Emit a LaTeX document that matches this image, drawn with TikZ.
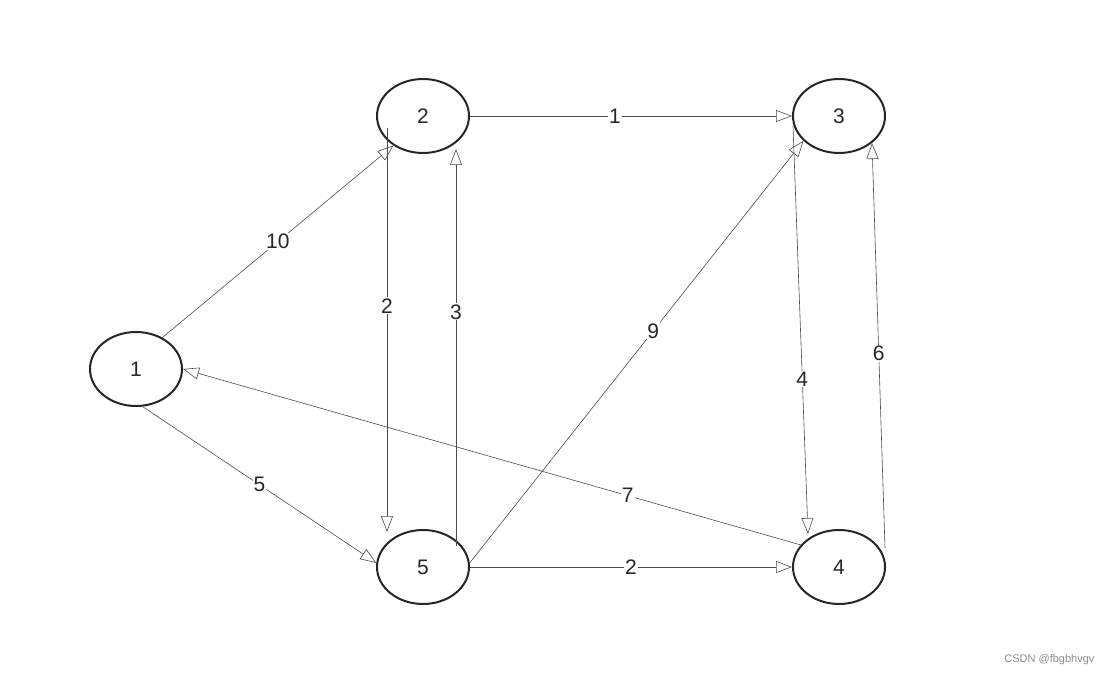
\documentclass[tikz,border=0pt]{standalone}
\usepackage{fontspec}
\setmainfont{Liberation Sans}
\usetikzlibrary{shapes.geometric,arrows.meta}
\begin{document}
\begin{tikzpicture}[x=1pt,y=-1pt,
 vtx/.style={ellipse,draw=black!85,line width=2pt,minimum width=92pt,minimum height=74pt,font=\fontsize{21}{22}\selectfont,text=black!85},
 edge/.style={draw=black!70,line width=0.6pt,-{Triangle[open,length=16pt,width=12pt]}},
 lbl/.style={fill=white,inner sep=1pt,font=\fontsize{21}{22}\selectfont,text=black!85}]
\useasboundingbox (0,0) rectangle (1113,676);
\node[vtx] (n1) at (136,369) {1};
\node[vtx] (n2) at (423,116) {2};
\node[vtx] (n3) at (839,116) {3};
\node[vtx] (n4) at (839,567) {4};
\node[vtx] (n5) at (423,567) {5};
\coordinate (a25) at (387,128);
\coordinate (b25) at (387,532);
\coordinate (a52) at (456,546);
\coordinate (b52) at (456,149);
\coordinate (a34) at (793,126);
\coordinate (b34) at (808,534);
\coordinate (a43) at (885,548);
\coordinate (b43) at (872,143);
\draw[edge] (n1.50) -- node[lbl]{10} (n2.225);
\draw[edge] (n1.-80) -- node[lbl,pos=0.5]{5} (n5.175);
\draw[edge] (a25) -- node[lbl,pos=0.44]{2} (b25);
\draw[edge] (a52) -- node[lbl,pos=0.59]{3} (b52);
\draw[edge] (n2.east) -- node[lbl,pos=0.45]{1} (n3.west);
\draw[edge] (n5.5) -- node[lbl,pos=0.55]{9} (n3.215);
\draw[edge] (a34) -- node[lbl,pos=0.62]{4} (b34);
\draw[edge] (a43) -- node[lbl,pos=0.48]{6} (b43);
\draw[edge] (n4.150) -- node[lbl,pos=0.28]{7} (n1.east);
\draw[edge] (n5.east) -- node[lbl,pos=0.5]{2} (n4.west);
\node[text=black!45,font=\fontsize{11}{12}\selectfont,anchor=east] (wm) at (1098,660) {CSDN @fbgbhvgv};
\end{tikzpicture}
\end{document}
